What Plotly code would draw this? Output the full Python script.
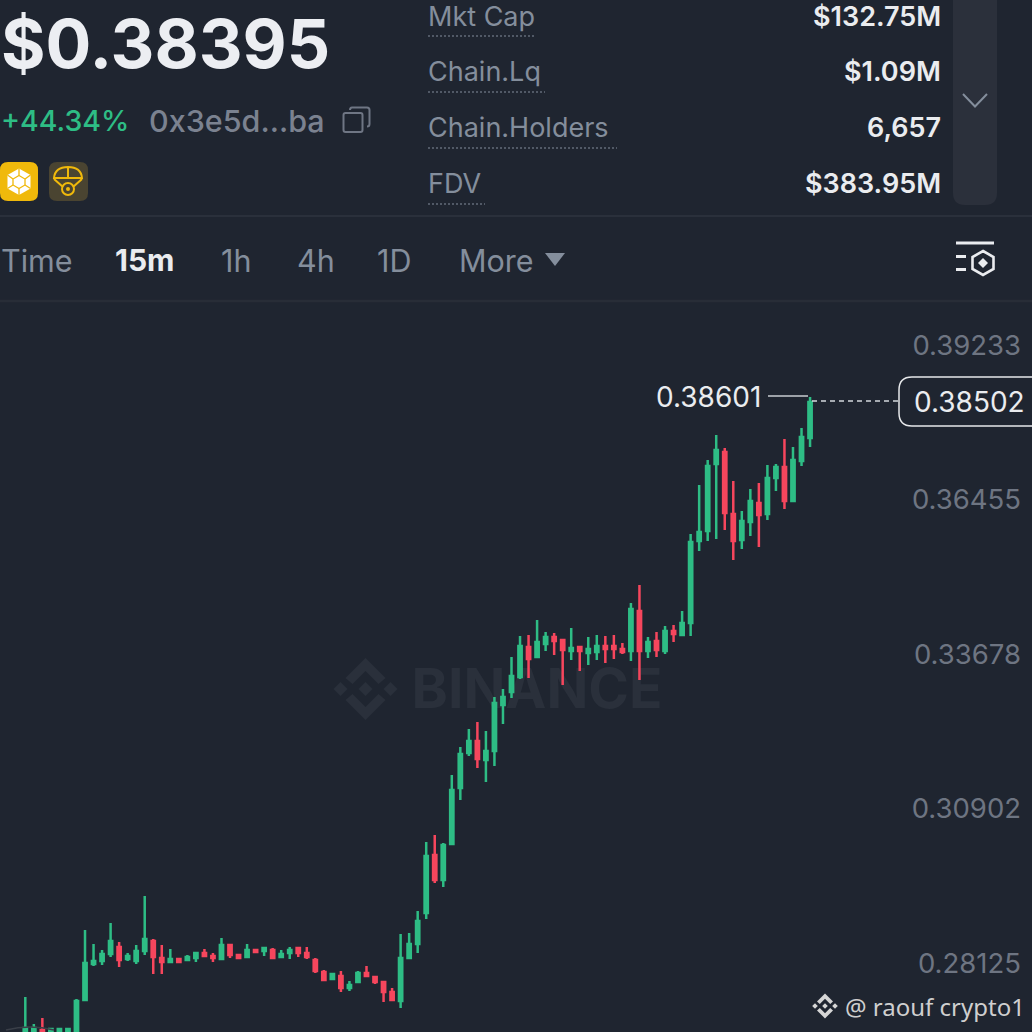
import plotly.graph_objects as go

BG = "#1f2530"
GREEN = "#2ebd85"
RED = "#f6465d"
GREY = "#848e9c"
WHITE = "#eaecef"
PANEL = "#2b303b"
FONT = "Inter"

tick_values = [0.39233, 0.36455, 0.33678, 0.30902, 0.28125]
y_range = [0.26885, 0.45434]
x_range = [-2.966, 118.02]

opens = [
    .26813, .26813, .26921, .26813, .26885, .26885, .26741, .27460, .28107, .28161,
    .28287, .28413, .28197, .28161, .28341, .28520, .28215, .28143, .28197, .28179,
    .28215, .28305, .28251, .28197, .28449, .28269, .28233, .28359, .28341, .28359,
    .28233, .28305, .28395, .28305, .28179, .27963, .27837, .27891, .27676, .27783,
    .27945, .27873, .27783, .27604, .27442, .28215, .28467, .29024, .30066, .29617,
    .30264, .31270, .31900, .32115, .31774, .31935, .32762, .32996, .33266, .33805,
    .33625, .33859, .33985, .33931, .33733, .33805, .33697, .33715, .33823, .33823,
    .33769, .33733, .34452, .33733, .33913, .33733, .34092, .34020, .34236, .35710,
    .35890, .37094, .37310, .36195, .35728, .36052, .36393, .36195, .36842, .37040,
    .36429, .37148, .37561,
]
highs = [
    .27514, .27029, .27136, .26957, .26939, .26939, .27478, .28718, .28467, .28359,
    .28844, .28502, .28305, .28449, .29329, .28556, .28449, .28377, .28215, .28269,
    .28305, .28377, .28305, .28574, .28467, .28287, .28467, .28359, .28395, .28395,
    .28359, .28413, .28413, .28413, .28215, .27999, .27927, .27981, .27801, .27981,
    .28071, .27891, .27801, .27676, .28646, .28664, .29060, .30300, .30426, .30282,
    .31504, .32007, .32331, .32457, .32295, .32906, .33050, .33625, .34003, .34020,
    .34290, .34074, .34056, .33949, .34146, .33823, .33985, .34020, .34003, .34020,
    .33877, .34596, .34919, .33985, .34074, .34182, .34200, .34452, .35836, .36717,
    .37166, .37615, .37382, .36788, .36249, .36645, .36753, .37076, .37094, .37543,
    .37400, .37741, .38298,
]
lows = [
    .26777, .26777, .26741, .26777, .26813, .26813, .26741, .27442, .28071, .28089,
    .28233, .28053, .28161, .28107, .28269, .27927, .27927, .28143, .28143, .28179,
    .28143, .28251, .28143, .28179, .28215, .28197, .28233, .28323, .28251, .28215,
    .28233, .28197, .28233, .28197, .27945, .27819, .27819, .27604, .27622, .27766,
    .27891, .27748, .27424, .27460, .27316, .28197, .28305, .28916, .29563, .29491,
    .30264, .31055, .31846, .31630, .31378, .31666, .32421, .32888, .33230, .33248,
    .33625, .33733, .33661, .33122, .33571, .33373, .33481, .33571, .33517, .33589,
    .33679, .33553, .33212, .33607, .33625, .33679, .33895, .34020, .34003, .35530,
    .35710, .35746, .35908, .35369, .35566, .35800, .35602, .36087, .36609, .36285,
    .36411, .37058, .37400,
]
closes = [
    .26957, .26957, .26777, .26939, .26939, .26939, .27442, .28125, .28161, .28287,
    .28520, .28179, .28251, .28341, .28556, .28233, .28143, .28197, .28143, .28233,
    .28305, .28251, .28215, .28449, .28269, .28215, .28359, .28323, .28395, .28215,
    .28287, .28359, .28305, .28233, .27981, .27819, .27927, .27676, .27730, .27945,
    .27891, .27783, .27604, .27460, .28215, .28467, .28880, .30048, .29617, .30246,
    .31235, .31882, .32115, .31792, .31935, .32798, .32906, .33284, .33823, .33589,
    .33895, .33985, .33913, .33751, .33787, .33733, .33769, .33823, .33769, .33769,
    .33715, .34488, .33733, .33895, .33751, .34092, .34038, .34236, .35692, .35872,
    .37058, .37346, .36213, .35710, .36070, .36429, .36177, .36842, .37040, .36429,
    .37166, .37579, .38208,
]
candle_index = list(range(len(opens)))

stats_labels = ["Mkt Cap", "Chain.Lq", "Chain.Holders", "FDV"]
stats_values = ["$132.75M", "$1.09M", "6,657", "$383.95M"]
stats_rows = [16.5, 71, 127, 183]
stats_underline_y = [36, 92, 148, 204]
stats_underline_x = [536, 545, 617, 485]

tabs = ["Time", "15m", "1h", "4h", "1D", "More"]
tabs_x = [0, 114, 220, 296, 376, 458]


def text(x, y, s, size, color=WHITE, anchor="left", weight=400, family=FONT, xshift=0):
    return dict(x=x, y=y, xref="x", yref="y", text=s, showarrow=False, xanchor=anchor,
                yanchor="middle", borderpad=0, xshift=xshift,
                font=dict(family=family, size=size, color=color, weight=weight))


def line(x0, y0, x1, y1, color, width=1, dash="solid"):
    return dict(type="line", xref="x", yref="y", x0=x0, y0=y0, x1=x1, y1=y1,
                line=dict(color=color, width=width, dash=dash), layer="above")


def path(d, fill="rgba(0,0,0,0)", color="rgba(0,0,0,0)", width=0, layer="above"):
    return dict(type="path", xref="x", yref="y", path=d, fillcolor=fill, layer=layer,
                line=dict(color=color, width=width))


def round_rect(x0, y0, x1, y1, r):
    return (f"M{x0+r},{y0} L{x1-r},{y0} Q{x1},{y0} {x1},{y0+r} L{x1},{y1-r} Q{x1},{y1} {x1-r},{y1} "
            f"L{x0+r},{y1} Q{x0},{y1} {x0},{y1-r} L{x0},{y0+r} Q{x0},{y0} {x0+r},{y0} Z")


def logo(cx, cy, s, color, layer):
    # binance mark: two chevrons and three small diamonds
    parts = [
        [(0, -31), (20, -11), (13, -5), (0, -18), (-13, -5), (-20, -11)],
        [(0, 31), (20, 11), (13, 5), (0, 18), (-13, 5), (-20, 11)],
        [(0, -7), (7, 0), (0, 7), (-7, 0)],
        [(-25, -7), (-18, 0), (-25, 7), (-32, 0)],
        [(25, -7), (32, 0), (25, 7), (18, 0)],
    ]
    out = []
    for p in parts:
        d = "M" + " L".join(f"{cx+a*s},{cy+b*s}" for a, b in p) + " Z"
        out.append(path(d, fill=color, layer=layer))
    return out


shapes = [
    line(0, 216, 1032, 216, "#2f353f", 1.5),
    line(0, 301, 1032, 301, "#282d37", 2.5),
    path("M953,-10 L997,-10 L997,193 Q997,205 985,205 L965,205 Q953,205 953,193 Z", fill=PANEL),
    path("M963,94 L975,106.5 L987,94", color=GREY, width=2),
    # token icons
    path(round_rect(0, 162, 38, 201, 8), fill="#f0b90b"),
    path("M19,168.5 L30.5,175 L30.5,188.5 L19,195 L7.5,188.5 L7.5,175 Z", fill="#ffffff"),
    path("M19,175.5 L25,179 L25,185 L19,188.5 L13,185 L13,179 Z", color="#f0b90b", width=1.3),
    path("M19,168.5 L19,175.5 M7.5,175 L13,179 M30.5,175 L25,179 M7.5,188.5 L13,185 M30.5,188.5 L25,185 M19,195 L19,188.5",
         color="#f0b90b", width=1.3),
    path(round_rect(49, 162, 88, 201, 8), fill="#4a4431"),
    path("M54,178 Q55,167 68,167 Q81,167 82,178 Z M68,167 L68,178", color="#f0b90b", width=2),
    path("M54,179 L63,187 M82,179 L73,187", color="#f0b90b", width=2),
    dict(type="circle", xref="x", yref="y", x0=62, y0=183, x1=74, y1=195, layer="above",
         line=dict(color="#f0b90b", width=2)),
    dict(type="circle", xref="x", yref="y", x0=66, y0=187, x1=70, y1=191, layer="above",
         fillcolor="#f0b90b", line=dict(width=0)),
    # copy icon
    path(round_rect(343.5, 113, 362.5, 132, 2), color="#6f7684", width=2),
    path("M350,110 Q350,107.5 352,107.5 L367,107.5 Q369.5,107.5 369.5,110 L369.5,124 Q369.5,126.5 367,126.5",
         color="#6f7684", width=2),
    # tab "More" arrow
    path("M545,253 L565,253 L555,266 Z", fill=GREY),
    # settings icon
    line(956, 243, 994, 243, WHITE, 3),
    line(956, 256.5, 966, 256.5, WHITE, 3),
    line(956, 269.5, 966, 269.5, WHITE, 3),
    path("M983,251 L993.5,257 L993.5,269 L983,275 L972.5,269 L972.5,257 Z", color=WHITE, width=2.6),
    path("M983,258 L988,263 L983,268 L978,263 Z", fill=WHITE),
    # last price and high markers
    line(768, 396, 808, 396, "#c9ccd1", 1.5),
    line(812, 401, 898, 401, "#d4d7dc", 1.5, "5px,4px"),
    path(round_rect(899, 377, 1045, 426, 13), fill=BG, color="#e6e8ea", width=1.5),
    path("M6,1030 Q30,1024 54,1030", color="#3a3f48", width=1.5),
]
for i in range(len(stats_labels)):
    shapes.append(line(428, stats_underline_y[i], stats_underline_x[i], stats_underline_y[i], GREY, 1, "2px,2px"))
shapes += logo(365.5, 689, 1.0, "#2a303b", "below")
shapes += logo(825, 1006, 0.4, "#d6d6d6", "above")

annotations = [
    text(0, 43, "$0.38395", 68, "#eceef2", weight=700),
    text(0, 120, "+44.34%", 28.5, GREEN, weight=500),
    text(148, 120, "0x3e5d...ba", 30.5, "#7b8290", weight=500),
    text(655, 397, "0.38601", 28, WHITE),
    text(913, 402, "0.38502", 28, WHITE),
    text(844, 1006, "@ raouf crypto1", 24, "#cfcfcf", family="Noto Sans"),
]
for i, label in enumerate(stats_labels):
    annotations.append(text(427, stats_rows[i], label, 27, GREY))
    annotations.append(text(942, stats_rows[i], stats_values[i], 27, WHITE, anchor="right", weight=600))
for i, label in enumerate(tabs):
    if label == "15m":
        annotations.append(text(tabs_x[i], 260, label, 30, WHITE, weight=700))
    else:
        annotations.append(text(tabs_x[i], 260, label, 30.5, GREY))

fig = go.Figure()
# the watermark sits in the lower subplot so the candles paint over it
fig.add_trace(go.Scatter(x=[537], y=[694], mode="text", text=["BINANCE"], xaxis="x", yaxis="y",
                         textfont=dict(family="Inter", size=55, color="#2a303b", weight=700),
                         hoverinfo="skip", showlegend=False))
fig.add_trace(go.Candlestick(
    x=candle_index, open=opens, high=highs, low=lows, close=closes,
    xaxis="x2", yaxis="y2", whiskerwidth=0, showlegend=False,
    increasing=dict(line=dict(color=GREEN, width=2.5), fillcolor=GREEN),
    decreasing=dict(line=dict(color=RED, width=2.5), fillcolor=RED),
))

fig.update_layout(
    width=1032, height=1032, margin=dict(l=0, r=0, t=0, b=0), autosize=False,
    paper_bgcolor=BG, plot_bgcolor="rgba(0,0,0,0)", showlegend=False, boxgap=0.45,
    shapes=shapes, annotations=annotations,
    xaxis=dict(range=[0, 1032], visible=False, domain=[0, 1], anchor="y"),
    yaxis=dict(range=[1032, 0], visible=False, domain=[0, 1], anchor="x"),
    xaxis2=dict(range=x_range, visible=False, domain=[0, 1], anchor="y2", rangeslider=dict(visible=False)),
    yaxis2=dict(range=y_range, domain=[0, 1], anchor="x2", side="right", showgrid=False, zeroline=False,
                showline=False, ticks="", ticklabelposition="inside", ticklabelstandoff=8,
                tickvals=tick_values, ticktext=[f"{v:.5f}" for v in tick_values],
                tickfont=dict(family=FONT, size=27.5, color="#6e7582")),
)
fig.write_html("out.html", config=dict(displayModeBar=False),
               post_script="document.body.style.margin='0';document.body.style.background='%s';" % BG)
